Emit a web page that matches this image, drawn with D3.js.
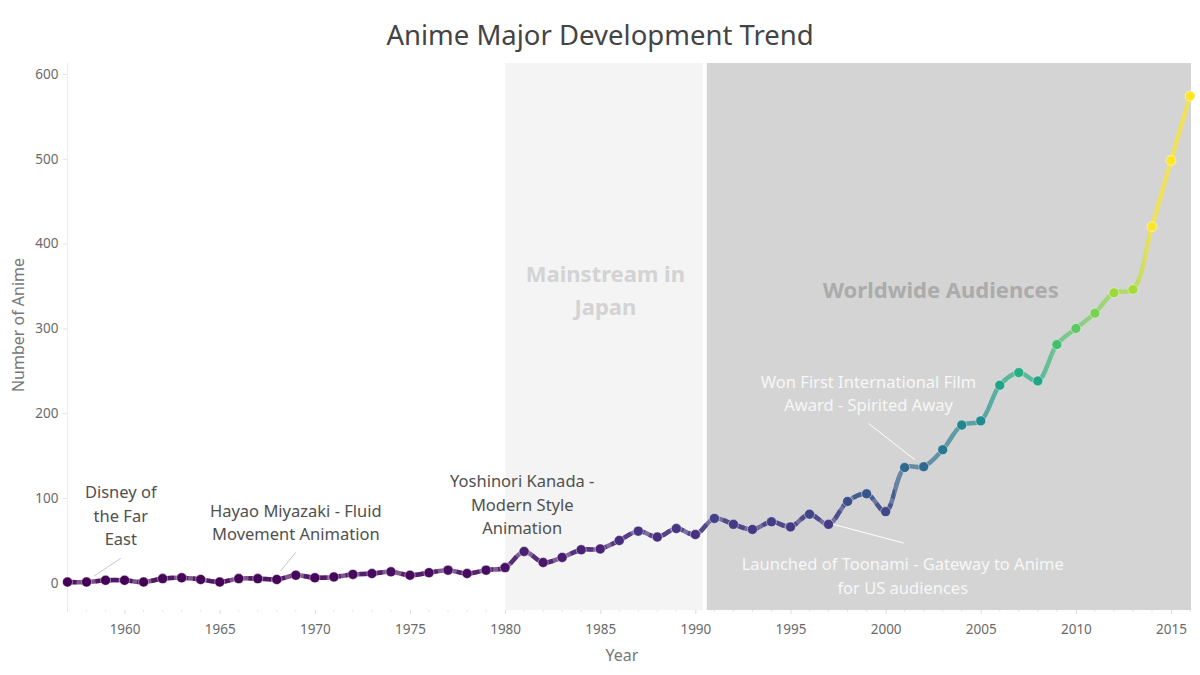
<!DOCTYPE html>
<html>
<head>
<meta charset="utf-8">
<script src="https://cdn.jsdelivr.net/npm/d3@7"></script>
<style>
  html, body { margin: 0; padding: 0; background: #fff; }
  #chart { width: 1200px; height: 675px; }
  text { font-family: "Noto Sans", "Open Sans", sans-serif; }
</style>
</head>
<body>
<div id="chart"></div>
<script>
// number of anime released per year
const years = [1957, 1958, 1959, 1960, 1961, 1962, 1963, 1964, 1965, 1966,
               1967, 1968, 1969, 1970, 1971, 1972, 1973, 1974, 1975, 1976,
               1977, 1978, 1979, 1980, 1981, 1982, 1983, 1984, 1985, 1986,
               1987, 1988, 1989, 1990, 1991, 1992, 1993, 1994, 1995, 1996,
               1997, 1998, 1999, 2000, 2001, 2002, 2003, 2004, 2005, 2006,
               2007, 2008, 2009, 2010, 2011, 2012, 2013, 2014, 2015, 2016];
const counts = [1, 1, 3, 3, 1, 5, 6, 4, 1, 5,
                5, 4, 9, 6, 7, 10, 11, 13, 9, 12,
                15, 11, 15, 18, 37, 24, 30, 39, 40, 50,
                61, 54, 64, 57, 76, 69, 63, 72, 66, 81,
                69, 96, 105, 84, 136, 137, 157, 186, 191, 233,
                248, 238, 281, 300, 318, 342, 346, 420, 498, 574];
const x_ticks = [1960, 1965, 1970, 1975, 1980, 1985, 1990, 1995, 2000, 2005, 2010, 2015];
const y_ticks = [0, 100, 200, 300, 400, 500, 600];

// era bands
const band_names = ["Mainstream in Japan", "Worldwide Audiences"];
const band_starts = [1980, 1990.6];
const band_ends = [1990.4, 2016.05];

// annotations: text lines, anchor year / value, leader line ends
const note_lines = [
  ["Disney of", "the Far", "East"],
  ["Hayao Miyazaki - Fluid", "Movement Animation"],
  ["Yoshinori Kanada -", "Modern Style", "Animation"],
  ["Won First International Film", "Award - Spirited Away"],
  ["Launched of Toonami - Gateway to Anime", "for US audiences"]
];
const note_years = [1959.8, 1969.0, 1980.9, 1999.1, 2000.9];
const note_values = [100, 78, 113, 230, 15];
const leader_from = [[1959.8, 29], [1969.0, 36], null, [1999.1, 188], [1997.25, 69]];
const leader_to = [[1958.4, 8], [1968.2, 14], null, [2001.55, 145], [2000.95, 47]];

class TrendChart {
  width = 1200;
  height = 675;
  constructor(container) {
    this.container = container;
    this.#init();
  }
  #init = () => {
    this.svg = d3.select(this.container)
      .append("svg")
        .attr("width", this.width)
        .attr("height", this.height);
    this.x = d3.scaleLinear().domain([1957, 2016.05]).range([67.5, 1191]);
    this.y = d3.scaleLinear().domain([-32, 613]).range([610, 63]);
    this.color = d3.scaleSequential(d3.interpolateViridis).domain([0, 400]).clamp(true);
    this.#draw_bands();
    this.#draw_axes();
    this.#draw_line();
    this.#draw_notes();
    this.#draw_titles();
  }
  #draw_bands = () => {
    const g = this.svg.append("g");
    const fills = ["#f4f4f4", "#d4d4d4"];
    const text_fills = ["#d3d3d3", "#ababab"];
    band_names.forEach((name, i) => {
      g.append("rect")
        .attr("x", this.x(band_starts[i]))
        .attr("y", this.y.range()[1])
        .attr("width", this.x(band_ends[i]) - this.x(band_starts[i]))
        .attr("height", this.y.range()[0] - this.y.range()[1])
        .attr("fill", fills[i]);
    });
    // band labels
    g.append("text")
      .attr("x", this.x(1985.27))
      .attr("y", this.y(355))
      .attr("text-anchor", "middle")
      .attr("font-size", "22px")
      .attr("font-weight", "bold")
      .attr("fill", text_fills[0])
      .selectAll("tspan")
      .data(["Mainstream in", "Japan"])
      .enter()
      .append("tspan")
        .attr("x", this.x(1985.27))
        .attr("dy", (d, i) => i == 0 ? 0 : 33)
        .text(d => d);
    g.append("text")
      .attr("x", this.x(2002.9))
      .attr("y", this.y(336))
      .attr("text-anchor", "middle")
      .attr("font-size", "22px")
      .attr("font-weight", "bold")
      .attr("fill", text_fills[1])
      .text(band_names[1]);
  }
  #draw_axes = () => {
    const bottom = this.y.range()[0];
    const left = this.x.range()[0];
    // faint y axis line
    this.svg.append("line")
      .attr("x1", left).attr("x2", left)
      .attr("y1", this.y.range()[1]).attr("y2", bottom)
      .attr("stroke", "#ececec");
    const x_axis = this.svg.append("g")
      .attr("transform", "translate(0," + bottom + ")")
      .call(d3.axisBottom(this.x).tickValues(x_ticks).tickFormat(d3.format("d")).tickSize(4).tickPadding(10));
    x_axis.select(".domain").remove();
    x_axis.selectAll("line").attr("stroke", "#dcdcdc");
    x_axis.selectAll("text")
      .attr("fill", "#6a6a6a")
      .attr("font-size", "13.5px")
      .attr("font-family", "'Noto Sans', sans-serif");
    // minor year ticks
    x_axis.selectAll(".minor")
      .data(years.filter(d => d % 5 != 0))
      .enter()
      .append("line")
        .attr("x1", d => this.x(d)).attr("x2", d => this.x(d))
        .attr("y1", 0).attr("y2", 2)
        .attr("stroke", "#e6e6e6");
    const y_axis = this.svg.append("g")
      .attr("transform", "translate(" + left + ",0)")
      .call(d3.axisLeft(this.y).tickValues(y_ticks).tickSize(5).tickPadding(4));
    y_axis.select(".domain").remove();
    y_axis.selectAll("line").attr("stroke", "#e4e4e4");
    y_axis.selectAll("text")
      .attr("fill", "#6a6a6a")
      .attr("font-size", "13.5px")
      .attr("font-family", "'Noto Sans', sans-serif");
  }
  #draw_line = () => {
    const data = years.map((d, i) => ({year: d, count: counts[i]}));
    const x0 = this.x(years[0]);
    const x1 = this.x(years[years.length - 1]);
    const grad = this.svg.append("defs")
      .append("linearGradient")
        .attr("id", "trend-grad")
        .attr("gradientUnits", "userSpaceOnUse")
        .attr("x1", x0).attr("x2", x1)
        .attr("y1", 0).attr("y2", 0);
    grad.selectAll("stop")
      .data(data)
      .enter()
      .append("stop")
        .attr("offset", d => (this.x(d.year) - x0) / (x1 - x0))
        .attr("stop-color", d => this.color(d.count));
    this.svg.select("defs")
      .append("clipPath")
        .attr("id", "early-clip")
      .append("rect")
        .attr("x", 0).attr("y", 0)
        .attr("width", this.x(2000.5)).attr("height", this.height);

    const line = d3.line()
      .x(d => this.x(d.year))
      .y(d => this.y(d.count))
      .curve(d3.curveCatmullRom.alpha(0.5));
    this.svg.append("path")
      .datum(data)
      .attr("d", line)
      .attr("fill", "none")
      .attr("stroke", "url(#trend-grad)")
      .attr("stroke-width", 4.5)
      .attr("stroke-linecap", "round")
      .attr("opacity", 0.68);
    // darker dashes on the early stretch
    this.svg.append("path")
      .datum(data)
      .attr("d", line)
      .attr("fill", "none")
      .attr("stroke", "url(#trend-grad)")
      .attr("stroke-width", 4.5)
      .attr("stroke-dasharray", "9,5")
      .attr("clip-path", "url(#early-clip)")
      .attr("opacity", 0.75);
    this.svg.append("g")
      .selectAll("circle")
      .data(data)
      .enter()
      .append("circle")
        .attr("cx", d => this.x(d.year))
        .attr("cy", d => this.y(d.count))
        .attr("r", 5)
        .attr("fill", d => this.color(d.count))
        .attr("stroke", "rgba(255,255,255,0.45)")
        .attr("stroke-width", 1);
  }
  #draw_notes = () => {
    const g = this.svg.append("g");
    note_lines.forEach((lines, i) => {
      const on_dark = i >= 3;
      const cx = this.x(note_years[i]);
      g.append("text")
        .attr("x", cx)
        .attr("y", this.y(note_values[i]))
        .attr("text-anchor", "middle")
        .attr("font-size", "16.5px")
        .attr("fill", on_dark ? "#f7f7f7" : "#505050")
        .selectAll("tspan")
        .data(lines)
        .enter()
        .append("tspan")
          .attr("x", cx)
          .attr("dy", (d, j) => j == 0 ? 0 : 23.5)
          .text(d => d);
      if(leader_from[i] != null) {
        g.append("line")
          .attr("x1", this.x(leader_from[i][0]))
          .attr("y1", this.y(leader_from[i][1]))
          .attr("x2", this.x(leader_to[i][0]))
          .attr("y2", this.y(leader_to[i][1]))
          .attr("stroke", on_dark ? "#ffffff" : "#c8c8c8")
          .attr("stroke-width", 1);
      }
    });
  }
  #draw_titles = () => {
    this.svg.append("text")
      .attr("x", 600)
      .attr("y", 45)
      .attr("text-anchor", "middle")
      .attr("font-size", "27.5px")
      .attr("fill", "#444")
      .text("Anime Major Development Trend");
    this.svg.append("text")
      .attr("x", 622)
      .attr("y", 661)
      .attr("text-anchor", "middle")
      .attr("font-size", "16px")
      .attr("fill", "#777")
      .text("Year");
    this.svg.append("text")
      .attr("transform", "translate(24,325) rotate(-90)")
      .attr("text-anchor", "middle")
      .attr("font-size", "16px")
      .attr("fill", "#777")
      .text("Number of Anime");
  }
}

new TrendChart(document.getElementById("chart"));
</script>
</body>
</html>
